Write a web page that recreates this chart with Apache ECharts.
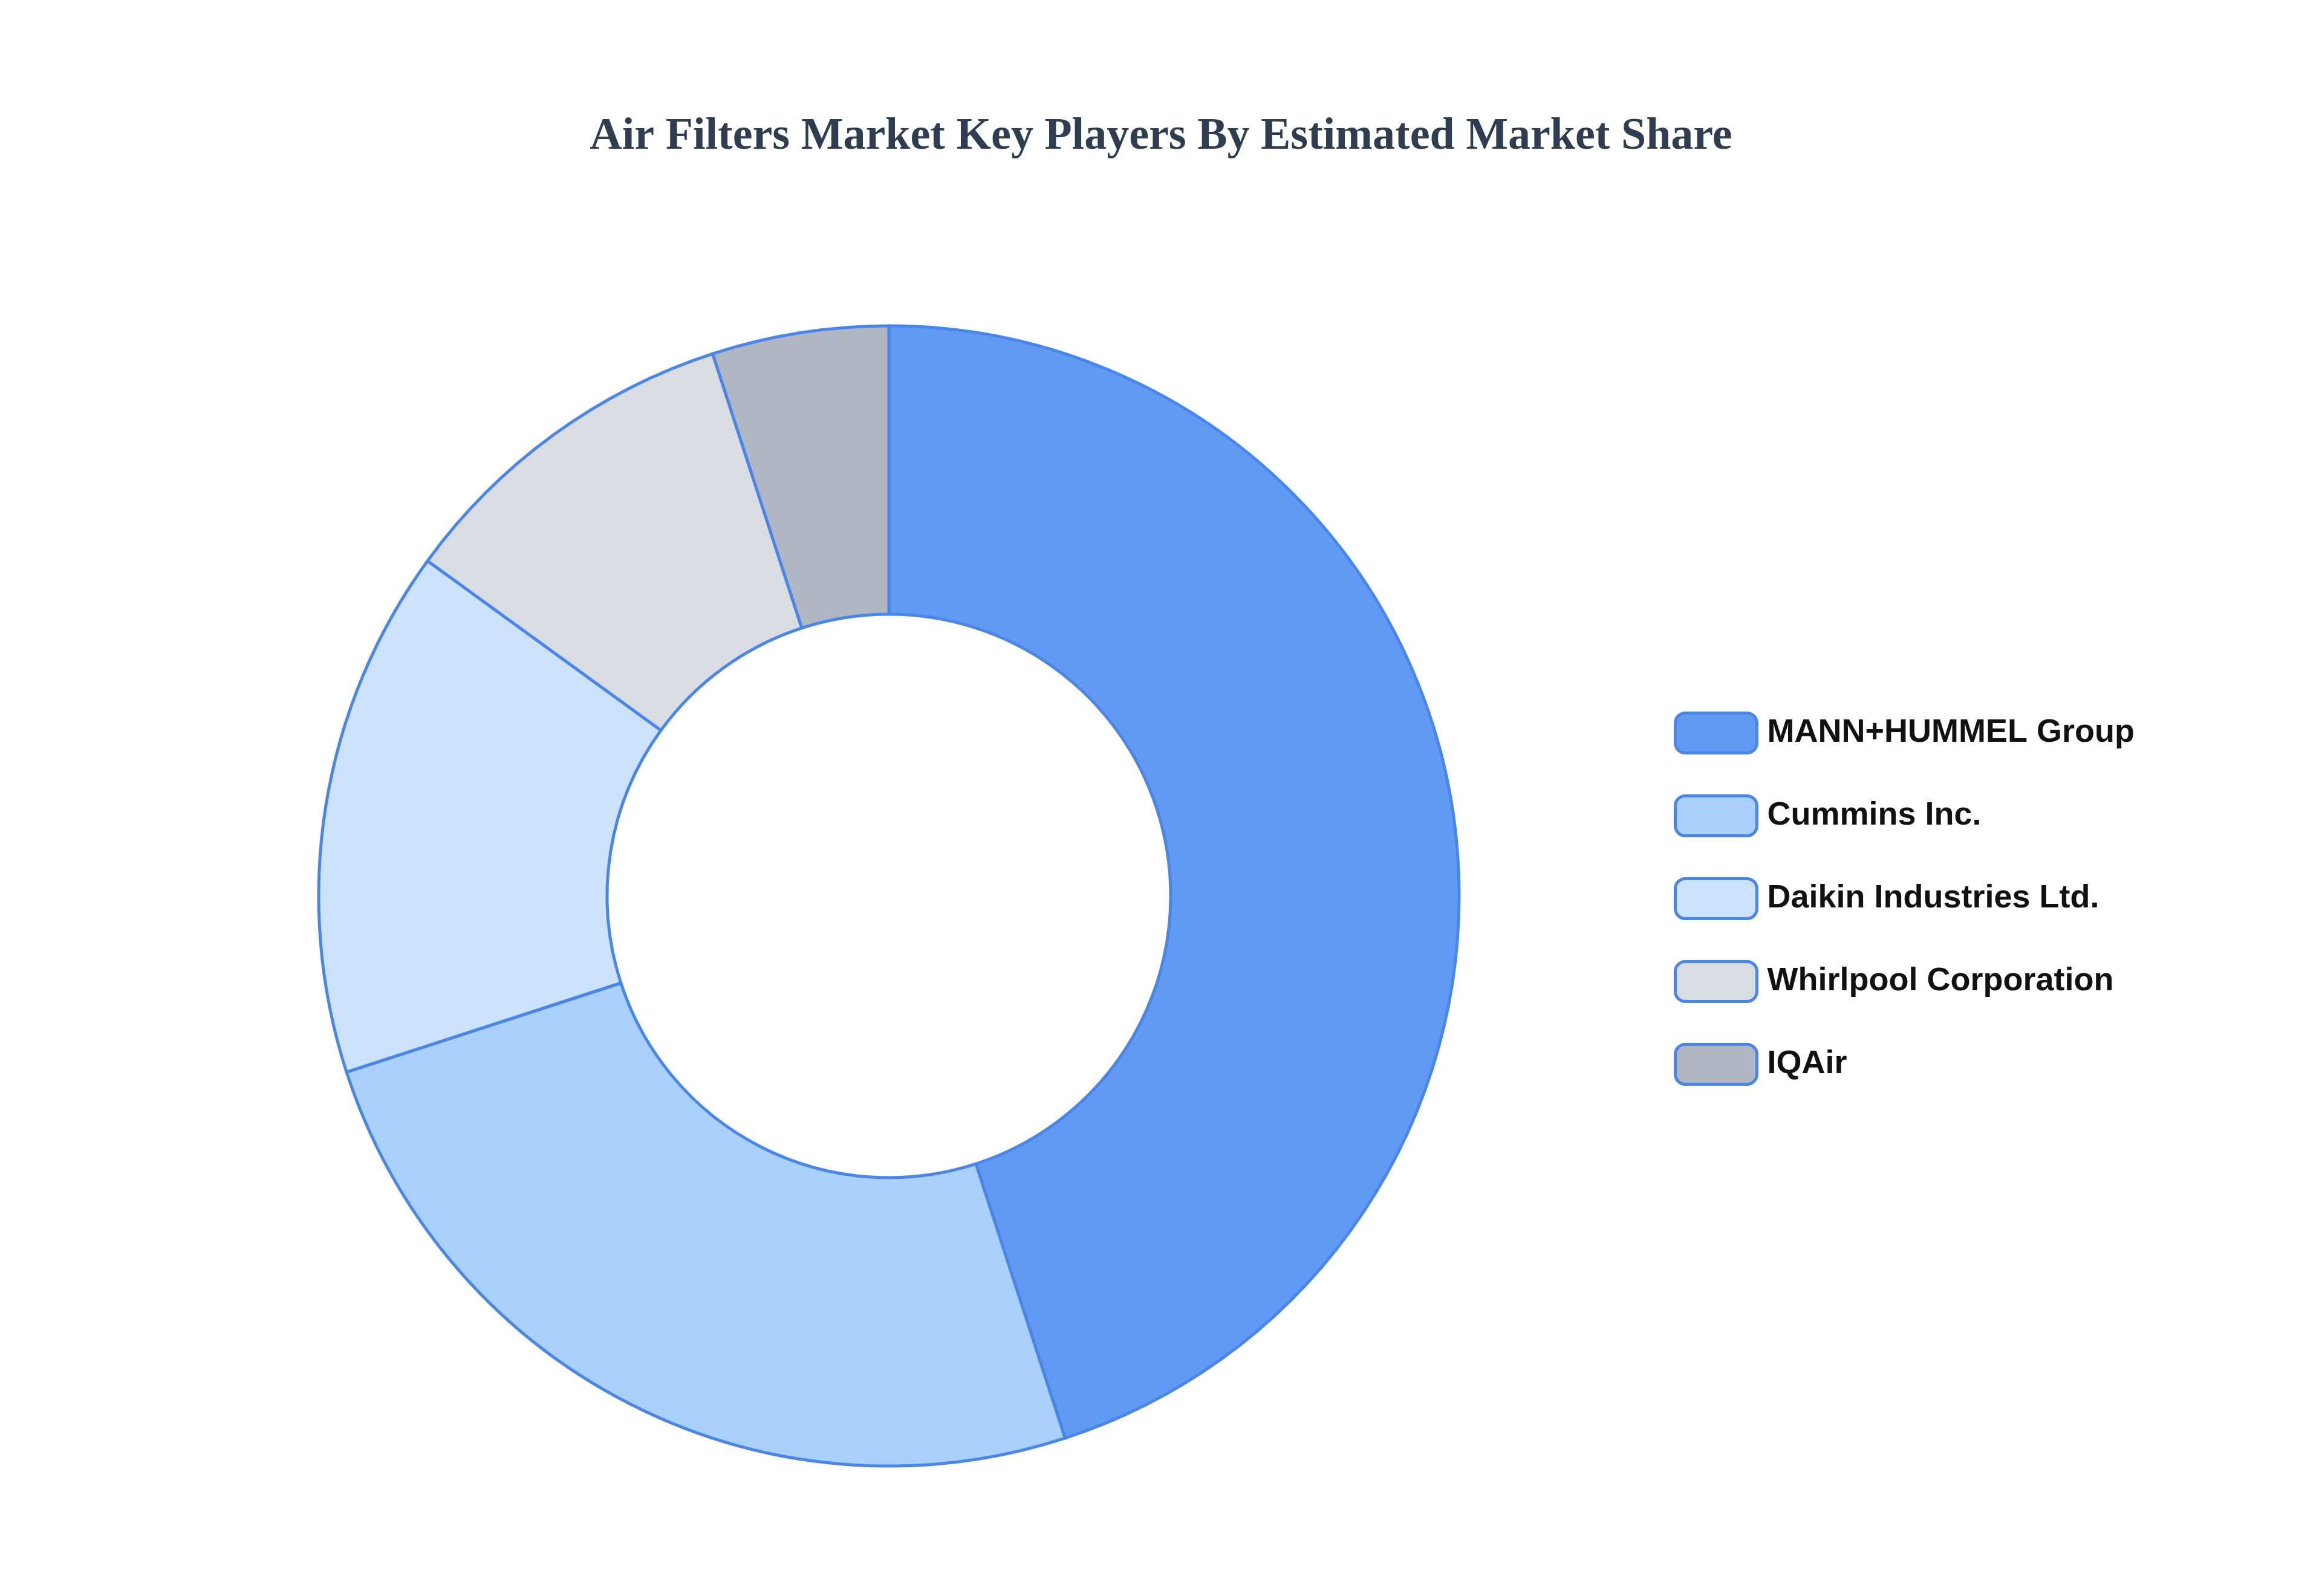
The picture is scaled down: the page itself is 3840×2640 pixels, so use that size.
<!DOCTYPE html>
<html><head><meta charset="utf-8">
<script src="https://cdn.jsdelivr.net/npm/echarts@6/dist/echarts.min.js"></script>
<style>html,body{margin:0;background:#fff}#c{width:3840px;height:2640px}</style>
</head><body><div id="c"></div>
<script>
const categories = ["MANN+HUMMEL Group","Cummins Inc.","Daikin Industries Ltd.","Whirlpool Corporation","IQAir"];
const shares = [45,25,15,10,5];
const colors = ["#6199f5","#a8d0fb","#cce2fb","#d9dde3","#b0b6c2"];
const chart = echarts.init(document.getElementById('c'));
chart.setOption({
  animation:false,
  title:{text:"Air Filters Market Key Players By Estimated Market Share",left:'center',top:185,
    textStyle:{fontFamily:"Liberation Serif",fontWeight:'bold',fontSize:74,color:'#2e3e50'}},
  legend:{orient:'vertical',left:2763,top:1172,itemWidth:135,itemHeight:66,itemGap:66,
    textStyle:{fontFamily:"Liberation Sans",fontWeight:'bold',fontSize:54,color:'#111',padding:[0,0,0,12]},
    itemStyle:{borderColor:'#4a86e8',borderWidth:5},
    data:categories},
  series:[{type:'pie',center:[1470,1482],radius:[466,943],startAngle:90,clockwise:true,
    label:{show:false},labelLine:{show:false},
    itemStyle:{borderColor:'#4a86e8',borderWidth:5},
    data:categories.map((n,i)=>({name:n,value:shares[i],itemStyle:{color:colors[i]}}))}]
});
</script></body></html>
